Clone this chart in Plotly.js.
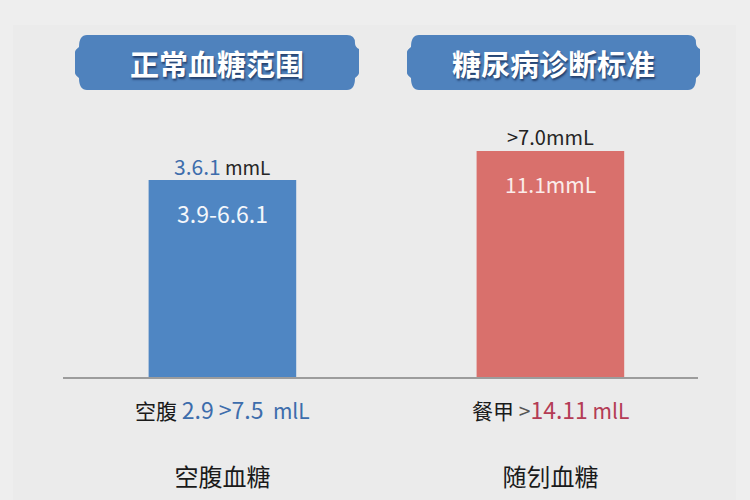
<!DOCTYPE html>
<html>
<head>
<meta charset="utf-8">
<script src="https://cdn.plot.ly/plotly-3.0.1.min.js"></script>
<style>
  html, body { margin: 0; padding: 0; background: #ececec; }
  #chart { width: 750px; height: 500px; }
</style>
</head>
<body>
<div id="chart"></div>
<script>
// Blood glucose reference values (mmol/L)
const categories = ['空腹血糖', '随刉血糖'];
const values = [6.1, 7.0];
const panelTitles = ['正常血糖范围', '糖尿病诊断标准'];
const topNumbers = ['3.6.1', '>7.0'];
const topUnits = [' mmL', 'mmL'];
const innerLabels = ['3.9-6.6.1', '11.1mmL'];
const subPrefixes = ['空腹', '餐甲'];
const subOps = ['', '>'];
const subValues = ['2.9 >7.5', '14.11'];
const subUnits = ['  mlL', ' mlL'];

// styling
const FONT = '"Noto Sans CJK SC", "Noto Sans", sans-serif';
const barColors = ['#4f86c3', '#d9706c'];
const accentColors = ['#3d6dac', '#b43c55'];
const topNumberColors = ['#3d6dac', '#222222'];
const topNumberSizes = [21, 20];
const topUnitSizes = [19, 20];
const bannerColor = '#4f82bd';

const W = 750, H = 500;
const M = { l: 63, r: 52, t: 87, b: 123 };
const plotW = W - M.l - M.r, plotH = H - M.t - M.b;
const px2x = px => (px - M.l) / plotW;
const px2y = py => (H - M.b - py) / plotH;

// ribbon-style banner with notched corners, built in pixels then mapped to paper units
function bannerPath(x0, y0, x1, y1) {
  const r = 11, n = 13;
  const pts = [
    ['M', x0 + r, y0],
    ['L', x1 - r, y0],
    ['Q', x1 - 3, y0, x1 - 3, y0 + 8],
    ['Q', x1 - 3, y0 + n - 1, x1 + 1, y0 + n + 1],
    ['Q', x1 + 1, y0 + n + 2, x1 + 1, y0 + n + 4],
    ['L', x1 + 1, y1 - n - 4],
    ['Q', x1 + 1, y1 - n - 2, x1 - 3, y1 - n + 1],
    ['Q', x1 - 3, y1, x1 - r, y1],
    ['L', x0 + r, y1],
    ['Q', x0 + 3, y1, x0 + 3, y1 - n + 1],
    ['Q', x0 - 1, y1 - n - 2, x0 - 1, y1 - n - 4],
    ['L', x0 - 1, y0 + n + 4],
    ['Q', x0 - 1, y0 + n + 2, x0 + 3, y0 + n - 1],
    ['Q', x0 + 3, y0, x0 + r, y0]
  ];
  return pts.map(p => {
    const cmd = p[0];
    const c = [];
    for (let i = 1; i < p.length; i += 2) c.push(px2x(p[i]).toFixed(5) + ',' + px2y(p[i + 1]).toFixed(5));
    return cmd + c.join(' ');
  }).join(' ') + ' Z';
}

const banners = [[76, 35, 358, 90], [408, 35, 699, 90]];

const shapes = [
  // soft side panels and top glow of the backdrop
  { type: 'rect', xref: 'paper', yref: 'paper', x0: px2x(0), x1: px2x(13), y0: px2y(500), y1: px2y(0),
    fillcolor: '#eeeeee', line: { width: 0 }, layer: 'below' },
  { type: 'rect', xref: 'paper', yref: 'paper', x0: px2x(736), x1: px2x(750), y0: px2y(500), y1: px2y(0),
    fillcolor: '#eeeeee', line: { width: 0 }, layer: 'below' },
  { type: 'rect', xref: 'paper', yref: 'paper', x0: px2x(13), x1: px2x(736), y0: px2y(25), y1: px2y(0),
    fillcolor: '#eeeeee', line: { width: 0 }, layer: 'below' }
];
banners.forEach(b => {
  shapes.push({ type: 'path', xref: 'paper', yref: 'paper', path: bannerPath(b[0], b[1], b[2], b[3]),
    fillcolor: bannerColor, line: { width: 0 } });
});

const annotations = [];
panelTitles.forEach((t, i) => {
  const b = banners[i];
  annotations.push({
    xref: 'paper', yref: 'paper', x: px2x((b[0] + b[2]) / 2), y: px2y((b[1] + b[3]) / 2),
    text: t, showarrow: false, xanchor: 'center', yanchor: 'middle',
    font: { family: FONT, size: 29, color: '#ffffff', weight: 700, shadow: '1px 2px 2px rgba(20,40,80,0.75)' }
  });
});

categories.forEach((c, i) => {
  annotations.push({
    x: c, y: values[i], xref: 'x', yref: 'y', showarrow: false, yanchor: 'middle', yshift: 14,
    text: '<span style="color:' + topNumberColors[i] + ';font-size:' + topNumberSizes[i] + 'px">' + topNumbers[i] + '</span>' +
      '<span style="font-size:' + topUnitSizes[i] + 'px">' + topUnits[i] + '</span>',
    font: { family: FONT, size: 20, color: '#262626' }
  });
  annotations.push({
    x: c, y: values[i], xref: 'x', yref: 'y', showarrow: false, yanchor: 'middle', yshift: -33,
    text: innerLabels[i],
    font: { family: FONT, size: i === 0 ? 23 : 21, color: i === 0 ? '#f4f7fb' : '#fbecea' }
  });
  annotations.push({
    x: c, y: 0, xref: 'x', yref: 'y', showarrow: false, yanchor: 'middle', yshift: -32,
    text: subPrefixes[i] + ' ' +
      (subOps[i] ? '<span style="color:#555555">' + subOps[i] + '</span>' : '') +
      '<span style="color:' + accentColors[i] + ';font-size:23px">' + subValues[i] + '</span>' +
      '<span style="color:' + accentColors[i] + '">' + subUnits[i] + '</span>',
    font: { family: FONT, size: 21, color: '#1a1a1a' }
  });
});

const trace = {
  type: 'bar', x: categories, y: values, width: 0.45,
  marker: { color: barColors, line: { width: 0 } },
  hoverinfo: 'none', textposition: 'none'
};

const layout = {
  width: W, height: H, margin: M,
  paper_bgcolor: '#ebebeb', plot_bgcolor: 'rgba(0,0,0,0)',
  showlegend: false,
  xaxis: {
    type: 'category', range: [-0.486, 1.45], showgrid: false, zeroline: false,
    showline: true, linecolor: '#9c9c9c', linewidth: 2, ticks: '',
    ticklabelstandoff: 78,
    tickfont: { family: FONT, size: 24, color: '#1a1a1a' }
  },
  yaxis: { range: [0, 8.98], visible: false, fixedrange: true },
  shapes: shapes,
  annotations: annotations
};

Plotly.newPlot('chart', [trace], layout, { staticPlot: true, displayModeBar: false });
</script>
</body>
</html>
